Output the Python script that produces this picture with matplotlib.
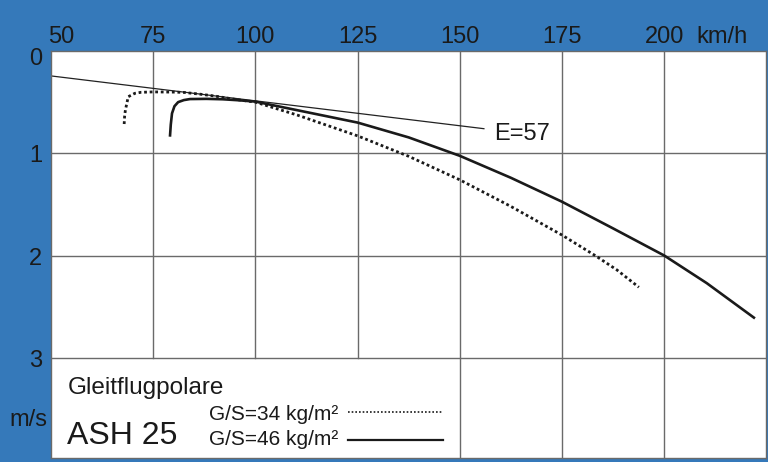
import matplotlib
matplotlib.use("Agg")
import matplotlib.pyplot as plt
import numpy as np

plt.rcParams['font.family'] = ['Liberation Sans', 'DejaVu Sans']

# ---- data ----
x_ticks = [50, 75, 100, 125, 150, 175, 200]
y_ticks = [0, 1, 2, 3]
x_unit = "km/h"
y_unit = "m/s"

# G/S = 34 kg/m2 (dotted)
v34 = [67.9, 68.0, 68.2, 68.9, 70.5, 72.0, 75.0, 80.0, 82.5, 86.0, 90.0, 94.5,
       100.0, 110.2, 125.0, 137.5, 150.0, 162.5, 175.0, 183.1, 188.4, 193.8]
w34 = [0.714, 0.64, 0.577, 0.447, 0.414, 0.404, 0.400, 0.402, 0.405, 0.42, 0.44, 0.47,
       0.50, 0.626, 0.83, 1.03, 1.26, 1.52, 1.80, 2.0, 2.14, 2.31]

# G/S = 46 kg/m2 (solid)
v46 = [79.1, 79.3, 79.6, 80.2, 81.1, 82.5, 84.0, 88.0, 92.0, 96.0, 100.0, 110.0,
       125.0, 137.5, 150.0, 162.5, 175.0, 187.5, 200.0, 210.4, 222.2]
w46 = [0.838, 0.72, 0.61, 0.54, 0.50, 0.48, 0.47, 0.468, 0.472, 0.482, 0.495, 0.577,
       0.70, 0.845, 1.025, 1.24, 1.474, 1.735, 2.0, 2.27, 2.615]

# best glide tangent E=57
glide_ratio = 57
tangent_v = [50.0, 155.9]

title1 = "Gleitflugpolare"
title2 = "ASH 25"
legend_labels = ["G/S=34 kg/m²", "G/S=46 kg/m²"]

# ---- figure ----
BLUE = "#3579ba"
GRID = "#6a6a6a"
INK = "#1a1a1a"
fig = plt.figure(figsize=(7.68, 4.62), dpi=100)
fig.patch.set_facecolor(BLUE)
ax = fig.add_axes([51 / 768, 4 / 462, 715 / 768, 407 / 462])
ax.set_facecolor("white")
xmin, xmax = 50, 224.9
ymin, ymax = 0, 3.98
ax.set_xlim(xmin, xmax)
ax.set_ylim(ymax, ymin)
ax.set_xticks([])
ax.set_yticks([])
for s in ax.spines.values():
    s.set_color(GRID)
    s.set_linewidth(1.0)

# grid (legend box area below 3 m/s and left of 150 km/h kept free)
for v in x_ticks[1:]:
    bottom = 3 if v < 150 else ymax
    ax.plot([v, v], [0, bottom], color=GRID, lw=1.0, zorder=1)
for w in y_ticks[1:]:
    ax.plot([xmin, xmax], [w, w], color=GRID, lw=1.0, zorder=1)

# tangent
tv = np.array(tangent_v)
ax.plot(tv, tv / 3.6 / glide_ratio, color="#222222", lw=0.9, zorder=2)
ax.text(158.4, 0.87, f"E={glide_ratio}", fontsize=17, color=INK,
        ha="left", va="baseline")

# polars
ax.plot(v34, w34, color=INK, lw=2.0, ls=(0, (1.0, 1.0)), zorder=3)
ax.plot(v46, w46, color=INK, lw=1.9, zorder=3, solid_capstyle="butt",
        solid_joinstyle="round")

# axis labels (top and left, on blue)
for v in x_ticks:
    xpos = 52.4 if v == 50 else v
    ax.text(xpos, -0.075, str(v), fontsize=17, color=INK,
            ha="center", va="baseline", clip_on=False)
ax.text(207.8, -0.075, x_unit, fontsize=17, color=INK,
        ha="left", va="baseline", clip_on=False)
for w in y_ticks:
    ypos = 0.137 if w == 0 else w + 0.09
    ax.text(47.9, ypos, str(w), fontsize=17, color=INK,
            ha="right", va="baseline", clip_on=False)
ax.text(49.1, 3.67, y_unit, fontsize=17, color=INK,
        ha="right", va="baseline", clip_on=False)

# legend box content
ax.text(54.2, 3.35, title1, fontsize=17.5, color=INK, ha="left", va="baseline")
ax.text(54.0, 3.84, title2, fontsize=23, color=INK, ha="left", va="baseline")
ax.text(88.6, 3.61, legend_labels[0], fontsize=15, color=INK, ha="left", va="baseline")
ax.text(88.6, 3.855, legend_labels[1], fontsize=15, color=INK, ha="left", va="baseline")
ax.plot([122.7, 145.9], [3.53, 3.53], color=INK, lw=1.2, ls=(0, (1.0, 1.2)))
ax.plot([122.7, 145.9], [3.80, 3.80], color=INK, lw=1.6)

fig.savefig("out.png", dpi=100, facecolor=BLUE)
